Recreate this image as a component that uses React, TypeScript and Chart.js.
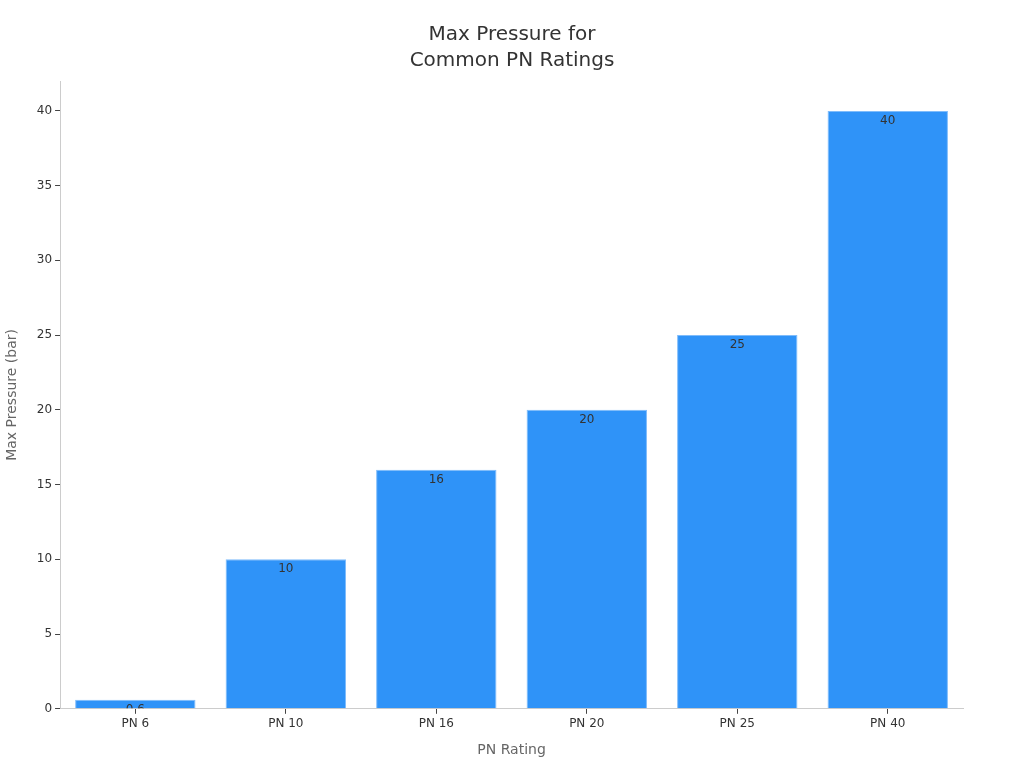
import { useEffect, useRef } from "react";
import { Chart, registerables } from "chart.js";
import type { Plugin } from "chart.js";

Chart.register(...registerables);

const ratings = ["PN 6", "PN 10", "PN 16", "PN 20", "PN 25", "PN 40"];
const maxPressure = [0.6, 10, 16, 20, 25, 40];
const valueLabels = ["0.6", "10", "16", "20", "25", "40"];
const titleLines = ["Max Pressure for", "Common PN Ratings"];

const FONT = "'DejaVu Sans', sans-serif";

// draws the value just under each bar's top, clipped to the bar itself
const barLabels: Plugin<"bar"> = {
  id: "barLabels",
  afterDatasetsDraw(chart) {
    const ctx = chart.ctx;
    const meta = chart.getDatasetMeta(0);
    meta.data.forEach((el, i) => {
      const bar = el as any;
      const { x, y, base, width } = bar.getProps(["x", "y", "base", "width"], true);
      ctx.save();
      ctx.beginPath();
      ctx.rect(x - width / 2, y, width, base - y);
      ctx.clip();
      ctx.fillStyle = "#333333";
      ctx.font = `12px ${FONT}`;
      ctx.textAlign = "center";
      ctx.textBaseline = "middle";
      ctx.fillText(valueLabels[i], x, y + 10);
      ctx.restore();
    });
  },
};

// title centred on the whole canvas, not on the padded box
const canvasTitle: Plugin<"bar"> = {
  id: "canvasTitle",
  afterDraw(chart) {
    const ctx = chart.ctx;
    ctx.save();
    ctx.fillStyle = "#333333";
    ctx.font = `20px ${FONT}`;
    ctx.textAlign = "center";
    ctx.textBaseline = "middle";
    titleLines.forEach((line, i) => {
      ctx.fillText(line, chart.width / 2, 35 + i * 26);
    });
    ctx.restore();
  },
};

export default function App() {
  const canvasRef = useRef<HTMLCanvasElement>(null);

  useEffect(() => {
    if (!canvasRef.current) return;
    const chart = new Chart(canvasRef.current, {
      type: "bar",
      data: {
        labels: ratings,
        datasets: [
          {
            label: "Max Pressure (bar)",
            data: maxPressure,
            backgroundColor: "#2f93f8",
            borderColor: "#7fbcfb",
            borderWidth: 1,
            barPercentage: 0.8,
            categoryPercentage: 1,
          },
        ],
      },
      options: {
        animation: false,
        responsive: true,
        maintainAspectRatio: false,
        layout: { padding: { top: 81, right: 61, bottom: 5, left: 0 } },
        plugins: {
          legend: { display: false },
          tooltip: { enabled: false },
          title: { display: false },
        },
        scales: {
          x: {
            offset: true,
            grid: {
              display: true,
              offset: false,
              drawOnChartArea: false,
              drawTicks: true,
              tickLength: 5,
              color: "#444444",
            },
            border: { color: "#cccccc" },
            ticks: { color: "#333333", font: { family: FONT, size: 12 } },
            title: {
              display: true,
              text: "PN Rating",
              color: "#666666",
              font: { family: FONT, size: 14 },
              padding: { top: 8 },
            },
          },
          y: {
            min: 0,
            max: 42,
            afterBuildTicks: (axis) => {
              axis.ticks = axis.ticks.filter((t) => t.value % 5 === 0);
            },
            grid: {
              display: true,
              drawOnChartArea: false,
              drawTicks: true,
              tickLength: 5,
              color: "#444444",
            },
            border: { color: "#cccccc" },
            ticks: {
              stepSize: 5,
              color: "#333333",
              font: { family: FONT, size: 12 },
              padding: 3,
            },
            title: {
              display: true,
              text: "Max Pressure (bar)",
              color: "#666666",
              font: { family: FONT, size: 14 },
              padding: { bottom: 13 },
            },
          },
        },
      },
      plugins: [barLabels, canvasTitle],
    });
    return () => chart.destroy();
  }, []);

  return (
    <div style={{ position: "fixed", left: 0, top: 0, width: 1024, height: 768 }}>
      <canvas ref={canvasRef} />
    </div>
  );
}
